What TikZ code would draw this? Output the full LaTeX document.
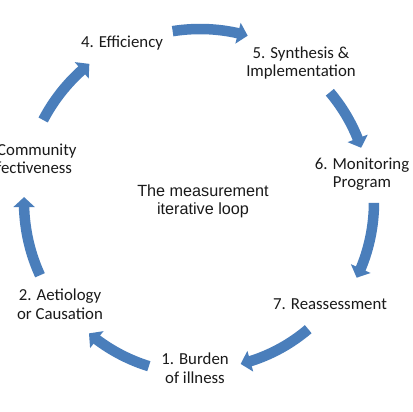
\documentclass[tikz,border=0pt]{standalone}
\usepackage{fontspec}
\setmainfont{Carlito}
\newfontfamily\arialfont{Liberation Sans}
\usetikzlibrary{arrows.meta,bending}
\definecolor{loopblue}{HTML}{4A7EBB}
\definecolor{txt}{HTML}{1A1A1A}
\tikzset{
  flow/.style={draw=loopblue, line width=10.5pt, -{Triangle[length=10pt,width=21pt]}},
  lbl/.style={align=center, text=txt, inner sep=0pt, font=\fontsize{16.8}{18.5}\selectfont},
  ctr/.style={align=center, text=txt, inner sep=0pt, font=\arialfont\fontsize{16.2}{18}\selectfont}
}
\begin{document}
\begin{tikzpicture}[x=1pt,y=1pt]
\useasboundingbox (0,0) rectangle (412,412);
\clip (0,0) rectangle (412,412);
\fill[white] (0,0) rectangle (412,412);
\coordinate (O) at (200,210);
% labels
\node[lbl] (bur) at (195,44) {1. Burden\\of illness};
\node[lbl] (aet) at (60,108) {2. Aetiology\\or Causation};
\node[lbl] (com) at (28,253) {3. Community\\Effectiveness};
\node[lbl] (eff) at (122,369) {4. Efficiency};
\node[lbl] (syn) at (301,349) {5. Synthesis \&\\Implementation};
\node[lbl] (mon) at (362,238) {6. Monitoring\\Program};
\node[lbl] (rea) at (330,108) {7. Reassessment};
\node[ctr] (mid) at (203,211) {The measurement\\iterative loop};
% arrow end points
\coordinate (a1s) at ([shift={(252.7:172)}]O);
\coordinate (a2s) at ([shift={(204.6:176)}]O);
\coordinate (a3s) at ([shift={(152.4:177)}]O);
\coordinate (a4s) at ([shift={(99.1:173)}]O);
\coordinate (a5s) at ([shift={(40.2:170)}]O);
\coordinate (a6s) at ([shift={(-0.3:174)}]O);
\coordinate (a7s) at ([shift={(-49.6:167)}]O);
% arrows
\draw[flow] (a1s) arc[start angle=252.7, end angle=229.8, radius=172];
\draw[flow] (a2s) arc[start angle=204.6, end angle=178.4, radius=176];
\draw[flow] (a3s) arc[start angle=152.4, end angle=128.7, radius=177];
\draw[flow] (a4s) arc[start angle=99.1, end angle=74, radius=173];
\draw[flow] (a5s) arc[start angle=40.2, end angle=18.6, radius=170];
\draw[flow] (a6s) arc[start angle=-0.3, end angle=-25.8, radius=174];
\draw[flow] (a7s) arc[start angle=-49.6, end angle=-75.9, radius=167];
\end{tikzpicture}
\end{document}
